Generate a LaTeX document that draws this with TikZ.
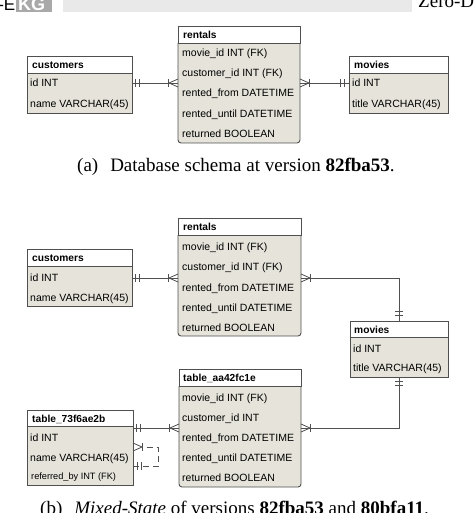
\documentclass[tikz,border=0pt]{standalone}
\usepackage{fontspec}
\setmainfont{Liberation Serif}
\newfontfamily\tabsans{Liberation Sans}
\definecolor{tabfill}{HTML}{E5E3DA}
\definecolor{tabline}{HTML}{4F4F4F}
\definecolor{connc}{HTML}{505050}
\definecolor{hdrbar}{HTML}{E9E9E9}
\definecolor{logogray}{HTML}{A9A9A9}
\tikzset{
  tshape/.style={inner sep=0pt, outer sep=0pt, anchor=north west},
  tbodypath/.style={fill=tabfill, draw=tabline, line width=0.9pt},
  thead/.style={draw=tabline, fill=white, line width=0.9pt, inner sep=0pt, outer sep=0pt, anchor=south west},
  ttitle/.style={font=\tabsans\bfseries\fontsize{10.2}{12}\selectfont, inner sep=0pt, anchor=base west},
  trow/.style={font=\tabsans\fontsize{10.5}{12}\selectfont, inner sep=0pt, anchor=base west},
  tsmall/.style={font=\tabsans\fontsize{9.2}{11}\selectfont, inner sep=0pt, anchor=base west},
  conn/.style={draw=connc, line width=0.8pt},
  selfconn/.style={conn, dash pattern=on 6pt off 4pt, dash phase=6pt},
  capt/.style={font=\fontsize{19}{22}\selectfont, inner sep=0pt, anchor=base west},
}
% name, left, top, width, header height, body height, corner style
\newcommand\dbframe[7]{%
  \node[tshape, minimum width=#4pt, minimum height=#6pt] (#1) at (#2,#3+#5) {};
  \path[tbodypath,#7] (#1.north west) -- (#1.south west) -- (#1.south east) -- (#1.north east);
  \node[thead, minimum width=#4pt, minimum height=#5pt] (#1h) at (#1.north west) {};
}
\newcommand\crowmany[3]{\begin{scope}[shift={#1},x={#2},y={#3}]
  \draw[conn] (0,4) -- (9,0) -- (0,-4); \draw[conn] (9.5,4) -- (9.5,-4);
\end{scope}}
\newcommand\crowone[4]{\begin{scope}[shift={#1},x={#2},y={#3}]
  \draw[conn] (#4,4) -- (#4,-4) (#4+4,4) -- (#4+4,-4);
\end{scope}}
\begin{document}
\begin{tikzpicture}[x=1pt,y=-1pt]
\useasboundingbox (0,0) rectangle (474,513);
\clip (0,0) rectangle (474,513);

% running header
\fill[hdrbar] (63,-1) rectangle (412,12);
\node[font=\tabsans\fontsize{17}{17}\selectfont, anchor=base east, inner sep=0pt] (logoE) at (15.5,11) {-E};
\fill[logogray] (16,-1) rectangle (52,11.7);
\node[font=\tabsans\bfseries\fontsize{18}{18}\selectfont, text=white, anchor=base west, inner sep=0pt] (logoKG) at (18,11) {KG};
\node[font=\fontsize{19}{19}\selectfont, anchor=base west, inner sep=0pt] (runhead) at (418,7.5) {Zero-D};

% ===== (a) =====
\dbframe{custA}{27}{56}{105}{17}{40}{sharp corners}
\node[ttitle] (custAt) at (32,68.5) {customers};
\node[trow] (custA1) at (30,87) {id INT};
\node[trow] (custA2) at (30,108) {name VARCHAR(45)};

\dbframe{rentA}{178}{26}{122}{17}{100}{rounded corners=3pt}
\node[ttitle] (rentAt) at (183,38.5) {rentals};
\node[trow] (rentA1) at (182,57) {movie\_id INT (FK)};
\node[trow] (rentA2) at (182,77) {customer\_id INT (FK)};
\node[trow] (rentA3) at (182,97) {rented\_from DATETIME};
\node[trow] (rentA4) at (182,118) {rented\_until DATETIME};
\node[trow] (rentA5) at (182,138) {returned BOOLEAN};

\dbframe{movA}{349}{56}{99}{17}{40}{sharp corners}
\node[ttitle] (movAt) at (354,68.5) {movies};
\node[trow] (movA1) at (352,87) {id INT};
\node[trow] (movA2) at (352,108) {title VARCHAR(45)};

\draw[conn] (custA.east |- 0,83) -- (rentA.west |- 0,83);
\crowone{(custA.east |- 0,83)}{(1pt,0pt)}{(0pt,1pt)}{3}
\crowmany{(rentA.west |- 0,83)}{(-1pt,0pt)}{(0pt,1pt)}
\draw[conn] (rentA.east |- 0,83) -- (movA.west |- 0,83);
\crowmany{(rentA.east |- 0,83)}{(1pt,0pt)}{(0pt,1pt)}
\crowone{(movA.west |- 0,83)}{(-1pt,0pt)}{(0pt,1pt)}{5}

\node[capt] (capA) at (77,171.5) {(a)\hspace{12pt}Database schema at version \textbf{82fba53}.};

% ===== (b) =====
\dbframe{custB}{27}{249}{105}{17}{40}{sharp corners}
\node[ttitle] (custBt) at (32,261.5) {customers};
\node[trow] (custB1) at (30,281) {id INT};
\node[trow] (custB2) at (30,301) {name VARCHAR(45)};

\dbframe{rentB}{178}{218}{123}{17}{101}{rounded corners=3pt}
\node[ttitle] (rentBt) at (183,230.5) {rentals};
\node[trow] (rentB1) at (182,250) {movie\_id INT (FK)};
\node[trow] (rentB2) at (182,270) {customer\_id INT (FK)};
\node[trow] (rentB3) at (182,291) {rented\_from DATETIME};
\node[trow] (rentB4) at (182,311) {rented\_until DATETIME};
\node[trow] (rentB5) at (182,331) {returned BOOLEAN};

\dbframe{movB}{350}{321}{98}{16}{40}{sharp corners}
\node[ttitle] (movBt) at (354,333) {movies};
\node[trow] (movB1) at (353,352) {id INT};
\node[trow] (movB2) at (353,371) {title VARCHAR(45)};

\dbframe{tAA}{179}{369}{122}{17}{101}{rounded corners=3pt}
\node[ttitle] (tAAt) at (183,381.5) {table\_aa42fc1e};
\node[trow] (tAA1) at (182,401) {movie\_id INT (FK)};
\node[trow] (tAA2) at (182,421) {customer\_id INT};
\node[trow] (tAA3) at (182,441) {rented\_from DATETIME};
\node[trow] (tAA4) at (182,461) {rented\_until DATETIME};
\node[trow] (tAA5) at (182,481) {returned BOOLEAN};

\dbframe{tSF}{27}{410}{106}{16}{59}{sharp corners}
\node[ttitle] (tSFt) at (32,422) {table\_73f6ae2b};
\node[trow] (tSF1) at (30,441) {id INT};
\node[trow] (tSF2) at (30,461) {name VARCHAR(45)};
\node[tsmall] (tSF3) at (31,479) {referred\_by INT (FK)};

% customers -> rentals
\draw[conn] (custB.east |- 0,278) -- (rentB.west |- 0,278);
\crowone{(custB.east |- 0,278)}{(1pt,0pt)}{(0pt,1pt)}{3}
\crowmany{(rentB.west |- 0,278)}{(-1pt,0pt)}{(0pt,1pt)}
% rentals -> movies
\draw[conn] (rentB.east |- 0,278) -| (movBh.north);
\crowmany{(rentB.east |- 0,278)}{(1pt,0pt)}{(0pt,1pt)}
\crowone{(movBh.north)}{(0pt,1pt)}{(1pt,0pt)}{6}
% table_73f6ae2b -> table_aa42fc1e
\draw[conn] (tSF.east |- 0,428) -- (tAA.west |- 0,428);
\crowone{(tSF.east |- 0,428)}{(1pt,0pt)}{(0pt,1pt)}{3}
\crowmany{(tAA.west |- 0,428)}{(-1pt,0pt)}{(0pt,1pt)}
% table_aa42fc1e -> movies
\draw[conn] (tAA.east |- 0,428) -| (movB.south);
\crowmany{(tAA.east |- 0,428)}{(1pt,0pt)}{(0pt,1pt)}
\crowone{(movB.south)}{(0pt,-1pt)}{(1pt,0pt)}{4}
% self reference
\crowmany{(tSF.east |- 0,447)}{(1pt,0pt)}{(0pt,1pt)}
\crowone{(tSF.east |- 0,466)}{(1pt,0pt)}{(0pt,1pt)}{4}
\draw[selfconn] (tSF.east |- 0,447) ++(9.5,0) -- ++(15.5,0) -- ++(0,19) -- (tSF.east |- 0,466);

\node[capt] (capB) at (40,514) {(b)\hspace{12pt}\textit{Mixed-State} of versions \textbf{82fba53} and \textbf{80bfa11}.};
\end{tikzpicture}
\end{document}
